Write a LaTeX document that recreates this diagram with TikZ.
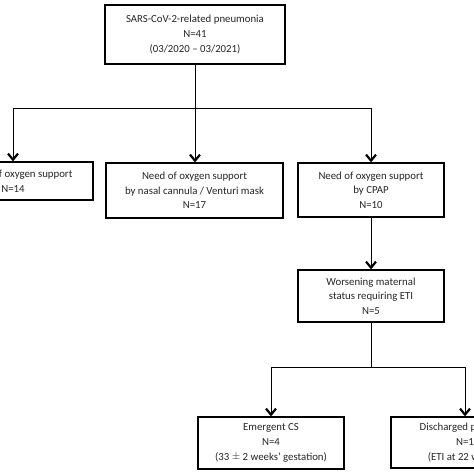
\documentclass[tikz,border=0pt]{standalone}
\usepackage{fontspec}
\setmainfont{Carlito}
\usetikzlibrary{arrows.meta}
\usetikzlibrary{positioning}

\tikzset{
  flowbox/.style={draw, line width=1.3pt, align=center, inner sep=0pt,
    text=black!85, font=\fontsize{10.8}{14.6}\selectfont},
  flowline/.style={line width=1pt},
  flowarrow/.style={line width=1pt,
    -{Straight Barb[length=6pt,width=10pt,line width=2.2pt]}}
}

\begin{document}
\begin{tikzpicture}[x=1pt,y=-1pt]
  \fill[white] (0,0) rectangle (474,474);
  \useasboundingbox (0,0) rectangle (474,474);
  \clip (0,0) rectangle (474,474);

  % boxes
  \node[flowbox, minimum width=180pt, minimum height=59pt] (pneu) at (195,34.5)
    {SARS-CoV-2-related pneumonia\\N=41\\(03/2020 -- 03/2021)};
  \node[flowbox, minimum width=160pt, minimum height=38pt] (noox) at (13,181)
    {No need of oxygen support\\N=14};
  \node[flowbox, minimum width=177pt, minimum height=55pt] (nasal) at (194.5,190.5)
    {Need of oxygen support\\by nasal cannula / Venturi mask\\N=17};
  \node[flowbox, minimum width=146pt, minimum height=54pt] (cpap) at (371,190)
    {Need of oxygen support\\by CPAP\\N=10};
  \node[flowbox, minimum width=146pt, minimum height=52pt] (eti) at (371,296)
    {Worsening maternal\\status requiring ETI\\N=5};
  \node[flowbox, minimum width=146pt, minimum height=52pt] (cs) at (271,443)
    {Emergent CS\\N=4\\(33 {\raisebox{0.2ex}{$\pm$}} 2 weeks' gestation)};
  \node[flowbox, minimum width=148pt, minimum height=51pt] (disch) at (465,442.5)
    {Discharged pregnant\\N=1\\(ETI at 22 weeks)};

  % branch points
  \coordinate (split1) at (pneu.south |- 0,108);
  \coordinate (split2) at (eti.south |- 0,367);

  % connectors
  \draw[flowline] (pneu.south) -- (split1);
  \draw[flowline] (split1 -| noox.north) -- (split1 -| cpap.north);
  \draw[flowarrow] (split1 -| noox.north) -- (noox.north);
  \draw[flowarrow] (split1) -- (split1 |- nasal.north);
  \draw[flowarrow] (split1 -| cpap.north) -- (cpap.north);
  \draw[flowarrow] (cpap.south) -- (eti.north);
  \draw[flowline] (eti.south) -- (split2);
  \draw[flowline] (split2 -| cs.north) -- (split2 -| disch.north);
  \draw[flowarrow] (split2 -| cs.north) -- (cs.north);
  \draw[flowarrow] (split2 -| disch.north) -- (disch.north);
\end{tikzpicture}
\end{document}
